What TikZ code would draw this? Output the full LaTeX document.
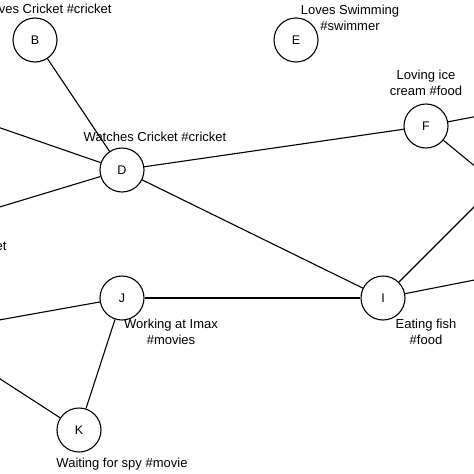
\documentclass[tikz,border=0pt]{standalone}
\usepackage{fontspec}
\setmainfont{Liberation Sans}
\begin{document}
\begin{tikzpicture}[x=1pt, y=-1pt, line width=1.1pt,
  user/.style={draw, circle, minimum size=44pt, inner sep=0pt, font=\fontsize{12.5}{13}\selectfont},
  tag/.style={align=center, inner sep=0pt, font=\fontsize{13}{16}\selectfont}]
\useasboundingbox (0,0) rectangle (474,474);
\clip (0,0) rectangle (474,474);
\node[user] (B) at (35,40) {B};
\node[user] (E) at (296,40) {E};
\node[user] (F) at (426,126) {F};
\node[user] (D) at (122,170) {D};
\node[user] (J) at (122,298) {J};
\node[user] (I) at (383,298) {I};
\node[user] (K) at (79,430) {K};
% labels
\node[tag] (tB) at (48,9) {Loves Cricket \#cricket};
\node[tag] (tE) at (350,18) {Loves Swimming\\\#swimmer};
\node[tag] (tF) at (426,83) {Loving ice\\cream \#food};
\node[tag] (tD) at (155,137) {Watches Cricket \#cricket};
\node[tag] (tJ) at (171,332) {Working at Imax\\\#movies};
\node[tag] (tI) at (426,332) {Eating fish\\\#food};
\node[tag] (tK) at (122,464) {Waiting for spy \#movie};
\node[tag, anchor=east] (tL) at (7,247) {Plays cricket};
% ends outside the frame
\coordinate (out1) at (-40,114);
\coordinate (out2) at (-40,219);
\coordinate (out3) at (510,110);
\coordinate (out4) at (510,195);
\coordinate (out5) at (510,171);
\coordinate (out6) at (510,273);
\coordinate (out7) at (-40,327);
\coordinate (out8) at (-40,353);
% edges
\draw (B) -- (D);
\draw (D) -- (out1);
\draw (D) -- (out2);
\draw (D) -- (F);
\draw (D) -- (I);
\draw (F) -- (out3);
\draw (F) -- (out4);
\draw (I) -- (out5);
\draw (I) -- (out6);
\draw (I) -- (J);
\draw (J) -- (out7);
\draw (J) -- (K);
\draw (K) -- (out8);
\end{tikzpicture}
\end{document}
